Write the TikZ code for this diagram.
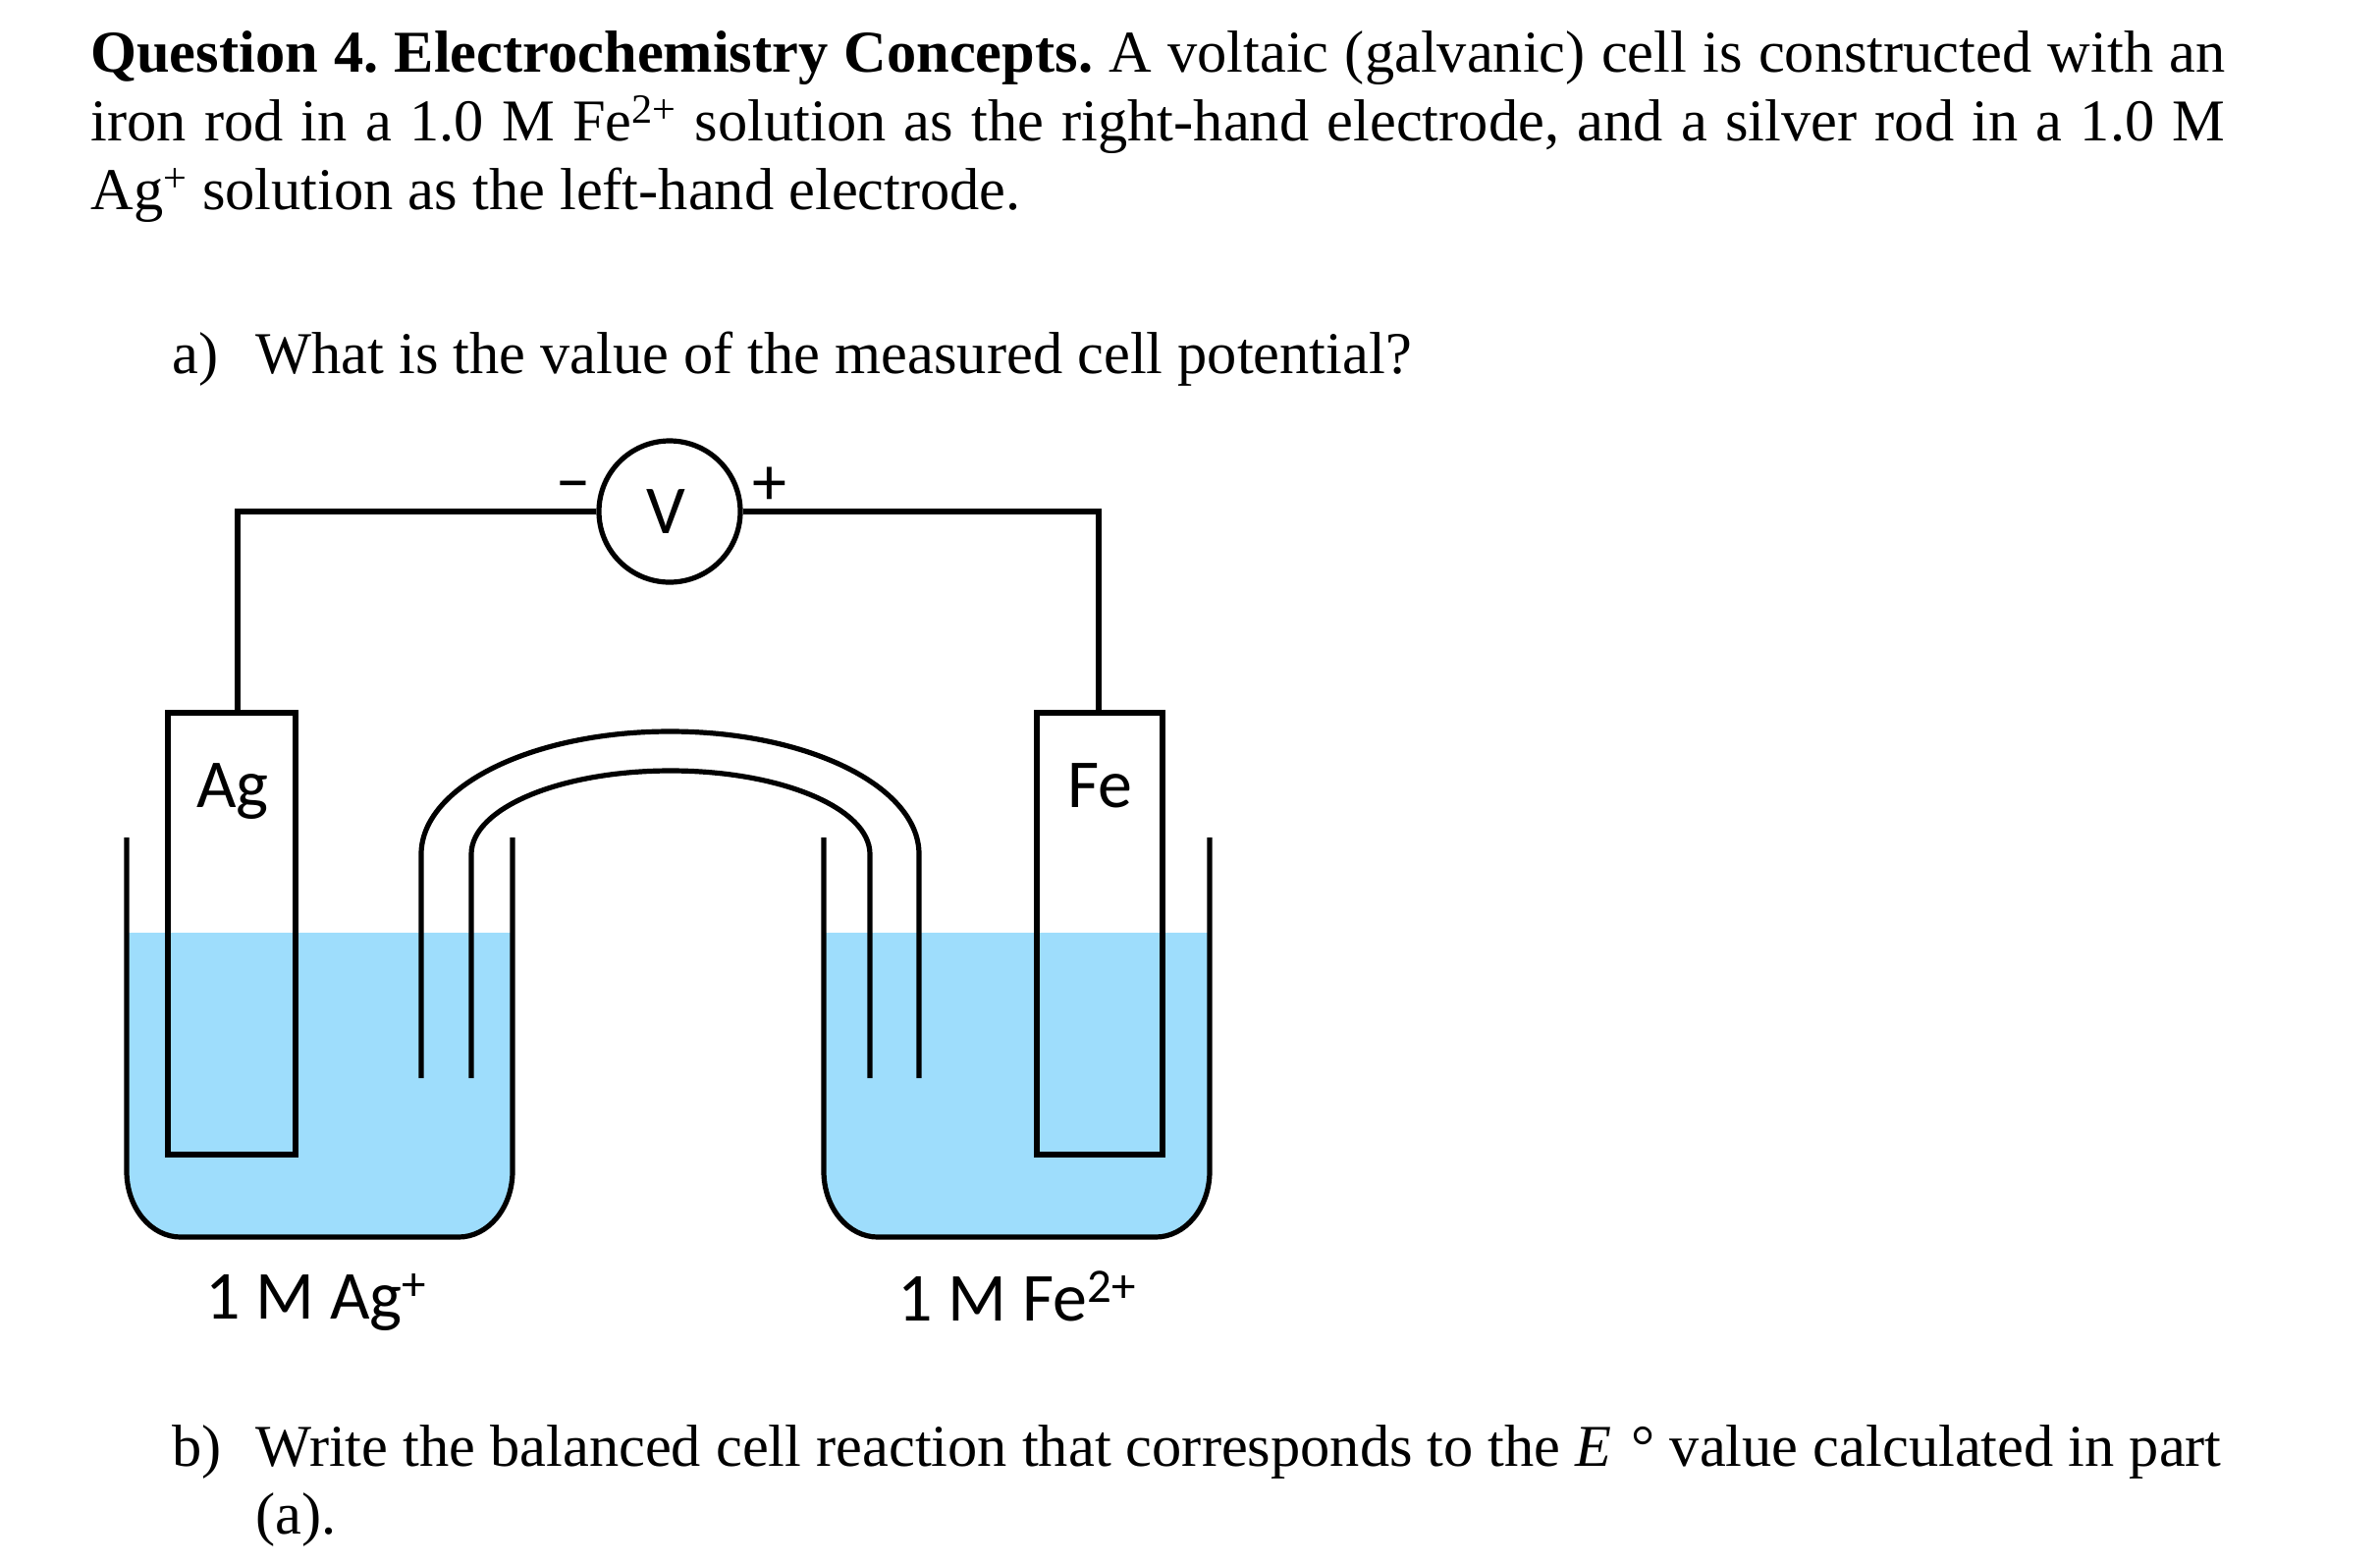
\documentclass[tikz,border=0pt]{standalone}
\usepackage{fontspec}
\setmainfont{Liberation Serif}
\newfontfamily\labelfont{Carlito}
\usetikzlibrary{calc,positioning}
\definecolor{water}{RGB}{158,221,252}
\frenchspacing
\tikzset{
  wire/.style={line width=2.6pt},
  rod/.style={draw,line width=2.6pt,minimum width=65pt,minimum height=225pt,inner sep=0pt},
  para/.style={anchor=north west,inner sep=0pt,align=justify,font=\fontsize{30.2}{35}\selectfont},
  line/.style={anchor=base west,inner sep=0pt,font=\fontsize{30.2}{35}\selectfont},
  lab/.style={anchor=base west,inner sep=0pt,font=\labelfont\fontsize{35}{40}\selectfont}
}
\begin{document}
\begin{tikzpicture}[x=0.5pt,y=-0.5pt]
  \useasboundingbox (0,0) rectangle (2424,1592);
  \coordinate (wireL) at (242,726);
  \coordinate (wireR) at (1119,726);

  \node[para,text width=1087pt] (intro) at (92,31) {\textbf{Question 4. Electrochemistry Concepts.} A voltaic (galvanic) cell is constructed with an iron rod in a 1.0 M Fe\textsuperscript{2+} solution as the right-hand electrode, and a silver rod in a 1.0 M Ag\textsuperscript{+} solution as the left-hand electrode.};
  \node[line] (partA) at (175,380) {a)};
  \node[line] (partAtext) at (260,380) {What is the value of the measured cell potential?};
  \node[line] (partB) at (175,1493) {b)};
  \node[line] (partBtext) at (260,1493) {Write the balanced cell reaction that corresponds to the \textit{E}\,\,° value calculated in part};
  \node[line] (partBend) at (260,1562) {(a).};

  % solution and beaker walls
  \foreach \x in {129,839} {
    \fill[water] (\x,950) -- (\x,1193) arc[start angle=180,end angle=90,x radius=55,y radius=67]
      -- (\x+338,1260) arc[start angle=90,end angle=0,x radius=55,y radius=67] -- (\x+393,950) -- cycle;
    \draw[wire] (\x,853) -- (\x,1193) arc[start angle=180,end angle=90,x radius=55,y radius=67]
      -- (\x+338,1260) arc[start angle=90,end angle=0,x radius=55,y radius=67] -- (\x+393,853);
  }

  % salt bridge
  \draw[wire] (429,1098) -- (429,870) arc[start angle=180,end angle=360,x radius=253.5,y radius=125] -- (936,1098);
  \draw[wire] (480,1098) -- (480,870) arc[start angle=180,end angle=360,x radius=203,y radius=85] -- (886,1098);

  \node[rod] (AgRod) at (236,951) {};
  \node[rod,minimum width=64pt] (FeRod) at (1120,951) {};
  \node[circle,draw,line width=2.6pt,minimum size=72pt,inner sep=0pt,font=\labelfont\fontsize{35}{40}\selectfont] (volt) at (682,521) {\hspace*{-4pt}V};

  \draw[wire] (volt.west) -| (wireL);
  \draw[wire] (volt.east) -| (wireR);

  \node[lab] (minus) at (566,514) {−};
  \node[lab] (plus) at (766,514) {+};
  \node[lab] (AgName) at (200,822) {Ag};
  \node[lab] (FeName) at (1087,822) {Fe};
  \node[lab] (AgSol) at (209,1343) {1 M Ag\textsuperscript{+}};
  \node[lab] (FeSol) at (914,1345) {1 M Fe\textsuperscript{2+}};
\end{tikzpicture}
\end{document}
